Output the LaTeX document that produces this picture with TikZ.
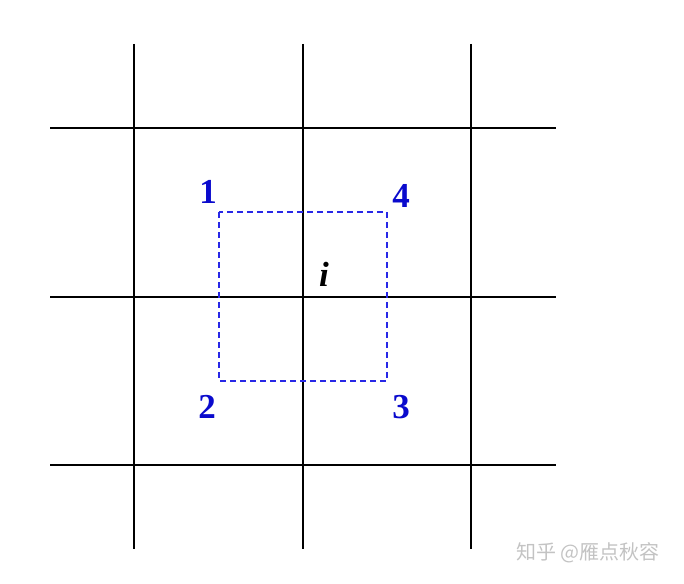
\documentclass[tikz,border=0pt]{standalone}
\usepackage{fontspec}
\setmainfont{Liberation Serif}
\newfontfamily\cjk{Noto Sans CJK SC}
\definecolor{lblblue}{RGB}{10,10,205}
\definecolor{dashblue}{RGB}{40,40,230}
\definecolor{wmgray}{RGB}{195,195,195}
\tikzset{
  gridline/.style={black, line width=1.2pt},
  cell/.style={dashblue, dash pattern=on 6pt off 4pt, line width=1.2pt},
  numlbl/.style={text=lblblue, font=\fontsize{35}{38}\selectfont\bfseries, inner sep=0pt},
}
\begin{document}
\begin{tikzpicture}[x=1pt,y=-1pt]
\useasboundingbox (0,0) rectangle (684,583);
% grid coordinates
\foreach \n/\v in {a/134,b/303,c/471}{
  \coordinate (t\n) at (\v,44);
  \coordinate (b\n) at (\v,549);
}
\foreach \n/\v in {a/128,b/297,c/465}{
  \coordinate (l\n) at (50,\v);
  \coordinate (r\n) at (556,\v);
}
\foreach \n in {a,b,c}{
  \draw[gridline] (t\n) -- (b\n);
  \draw[gridline] (l\n) -- (r\n);
}
% dashed cell
\coordinate (c1) at (219,212);
\coordinate (c2) at (219,381);
\coordinate (c3) at (387,381);
\coordinate (c4) at (387,212);
\draw[cell] (c1) -- (c2) -- (c3) -- (c4) -- cycle;
% labels
\node[numlbl] (n1) at (208,192) {1};
\node[numlbl] (n4) at (401,196) {4};
\node[numlbl] (n2) at (207,407) {2};
\node[numlbl] (n3) at (401,407) {3};
\node[inner sep=0pt, font=\fontsize{35}{38}\selectfont\bfseries\itshape] (ni) at (324,274) {i};
% watermark
\node[inner sep=0pt, text=wmgray, font=\cjk\fontsize{20}{23}\selectfont] (wm) at (588,553) {知乎 @雁点秋容};
\end{tikzpicture}
\end{document}
